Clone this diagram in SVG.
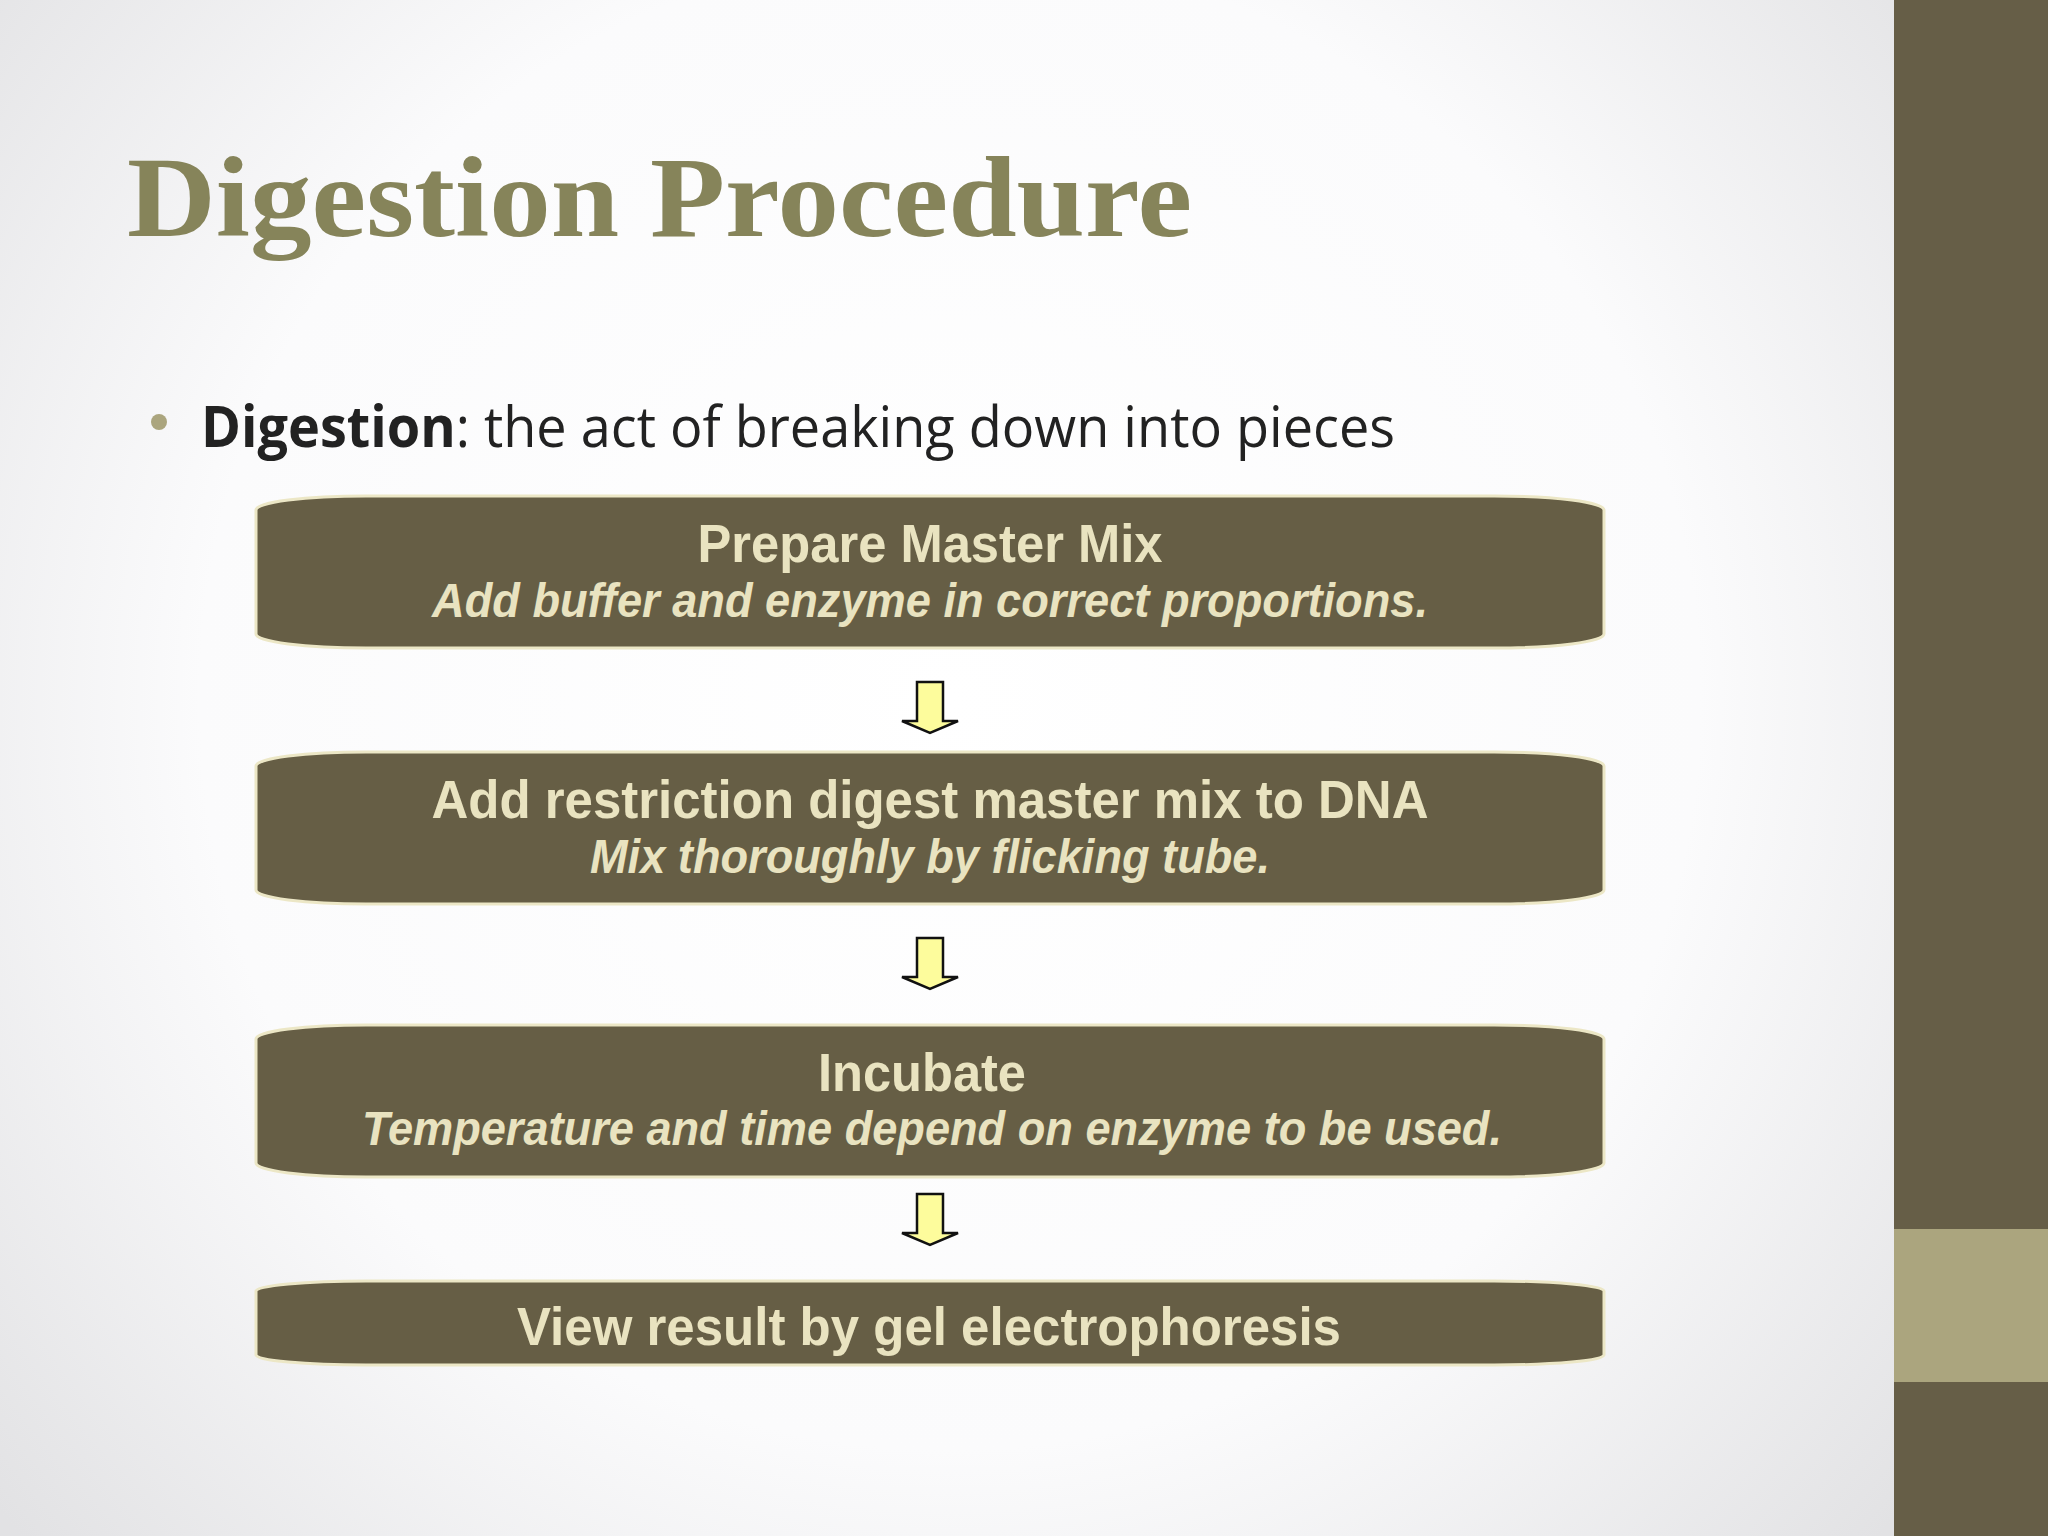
<svg xmlns="http://www.w3.org/2000/svg" width="2048" height="1536" viewBox="0 0 2048 1536">
  <defs>
    <radialGradient id="bg" cx="950" cy="700" r="1250" gradientUnits="userSpaceOnUse">
      <stop offset="0" stop-color="#ffffff"/>
      <stop offset="0.6" stop-color="#fbfbfc"/>
      <stop offset="1" stop-color="#e2e2e4"/>
    </radialGradient>
    <path id="arrow" d="M -13 0 L 13 0 L 13 39 L 28 39 L 0 51 L -28 39 L -13 39 Z"/>
  </defs>
  <style>
    .box { fill: #665e45; stroke: #ece7c6; stroke-width: 3; }
    .arr { fill: #fdfc9c; stroke: #111111; stroke-width: 2.5; stroke-linejoin: miter; }
    .t1 { font-family: "Liberation Sans", Arial, sans-serif; font-weight: bold; font-size: 54px; fill: #e9e3c0; text-anchor: middle; }
    .t2 { font-family: "Liberation Sans", Arial, sans-serif; font-weight: bold; font-style: italic; font-size: 48px; fill: #e9e3c0; text-anchor: middle; }
  </style>
  <rect x="0" y="0" width="2048" height="1536" fill="url(#bg)"/>
  <rect x="1894" y="0" width="154" height="1536" fill="#665e47"/>
  <rect x="1894" y="1229" width="154" height="153" fill="#aba57e"/>

  <g id="title">
    <text x="127" y="236" font-family="'Liberation Serif', 'DejaVu Serif', serif" font-weight="bold" font-size="114" fill="#86845a" textLength="1065" lengthAdjust="spacingAndGlyphs">Digestion Procedure</text>
  </g>

  <g id="bullet">
    <circle cx="159" cy="422" r="8" fill="#aba57e"/>
    <text x="201" y="447" font-family="'Open Sans', 'Liberation Sans', sans-serif" font-size="57" fill="#222222" textLength="1194" lengthAdjust="spacingAndGlyphs"><tspan font-weight="bold">Digestion</tspan>: the act of breaking down into pieces</text>
  </g>

  <g id="step1">
    <rect class="box" x="256" y="496" width="1348" height="152" rx="110" ry="14"/>
    <text class="t1" x="930" y="562" textLength="465" lengthAdjust="spacingAndGlyphs">Prepare Master Mix</text>
    <text class="t2" x="930" y="617" textLength="996" lengthAdjust="spacingAndGlyphs">Add buffer and enzyme in correct proportions.</text>
  </g>

  <g id="step2">
    <rect class="box" x="256" y="752" width="1348" height="152" rx="110" ry="14"/>
    <text class="t1" x="930" y="818" textLength="997" lengthAdjust="spacingAndGlyphs">Add restriction digest master mix to DNA</text>
    <text class="t2" x="930" y="873" textLength="680" lengthAdjust="spacingAndGlyphs">Mix thoroughly by flicking tube.</text>
  </g>

  <g id="step3">
    <rect class="box" x="256" y="1025" width="1348" height="152" rx="110" ry="14"/>
    <text class="t1" x="922" y="1091" textLength="208" lengthAdjust="spacingAndGlyphs">Incubate</text>
    <text class="t2" x="932" y="1145" textLength="1140" lengthAdjust="spacingAndGlyphs">Temperature and time depend on enzyme to be used.</text>
  </g>

  <g id="step4">
    <rect class="box" x="256" y="1281" width="1348" height="84" rx="110" ry="10"/>
    <text class="t1" x="929" y="1345" textLength="824" lengthAdjust="spacingAndGlyphs">View result by gel electrophoresis</text>
  </g>

  <g id="connectors">
    <use href="#arrow" class="arr" x="930" y="682"/>
    <use href="#arrow" class="arr" x="930" y="938"/>
    <use href="#arrow" class="arr" x="930" y="1194"/>
  </g>
</svg>
